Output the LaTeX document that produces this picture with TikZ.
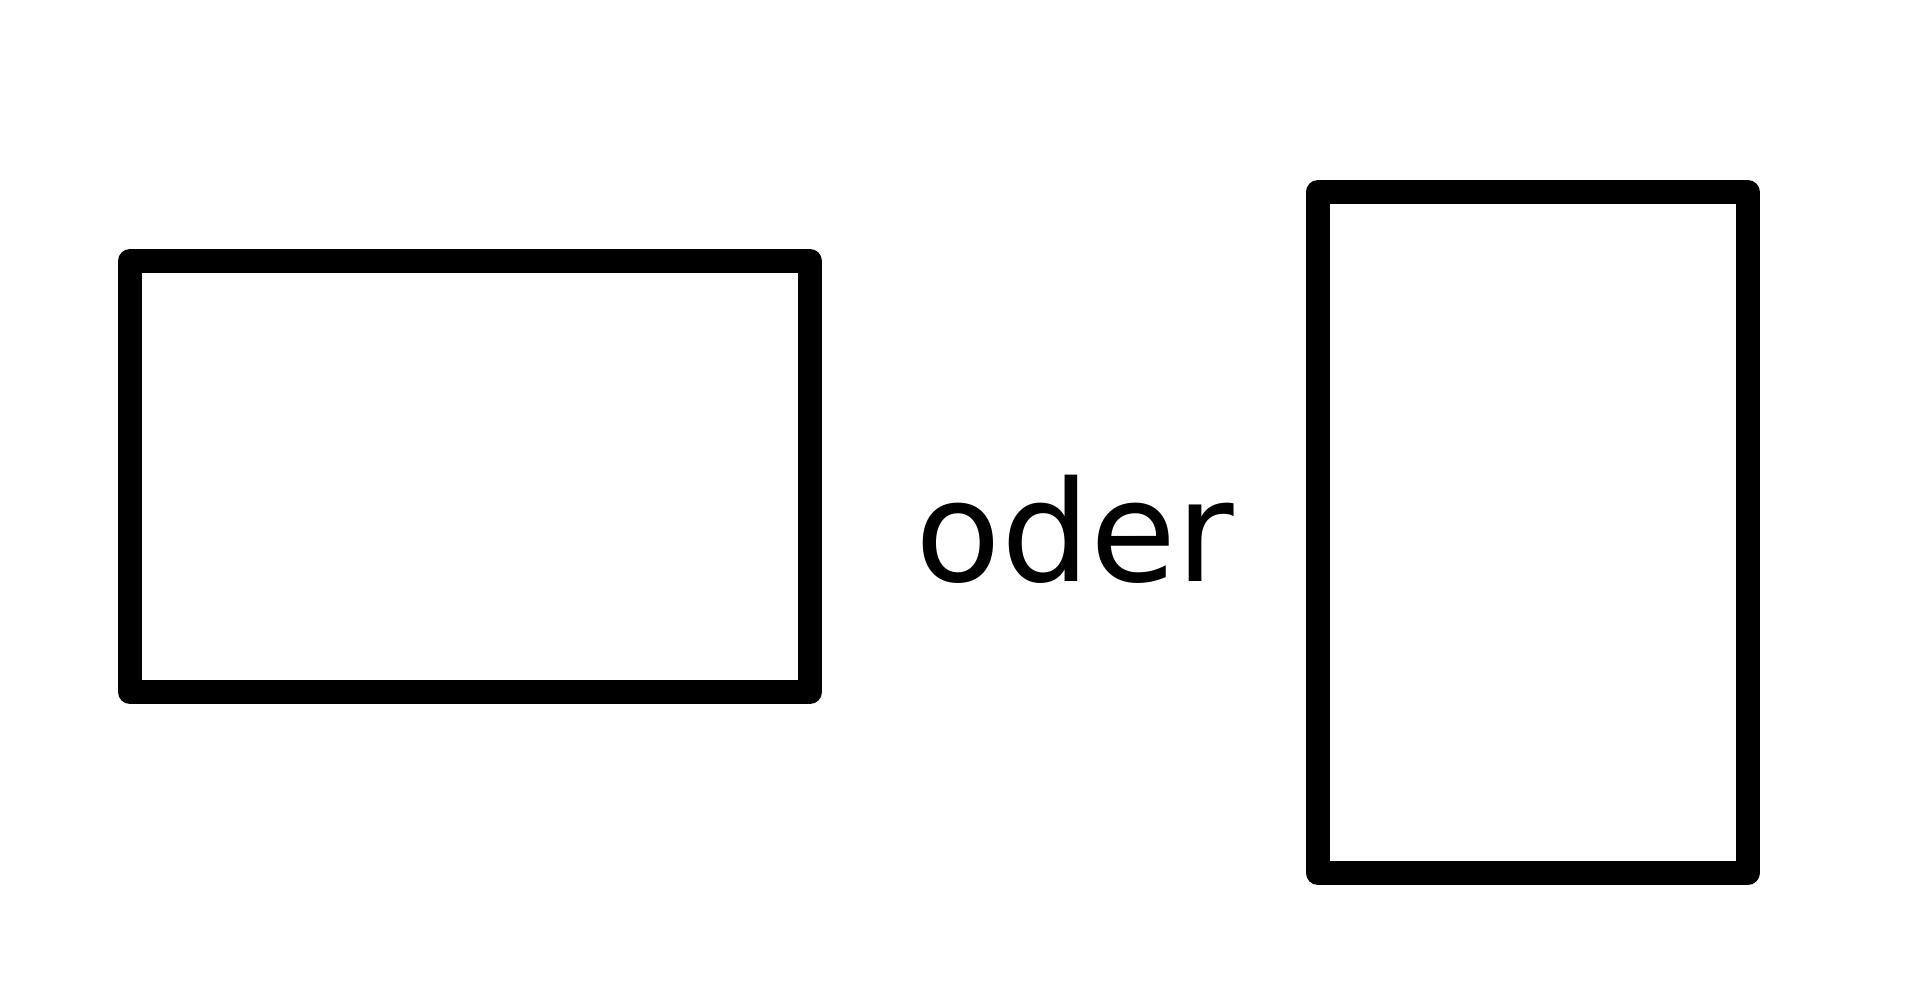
\documentclass[tikz,border=0pt]{standalone}
\usepackage{fontspec}
\setmainfont{DejaVu Sans}
\usepackage{tikz}
\usetikzlibrary{positioning}

\begin{document}
\begin{tikzpicture}[
  x=0.5pt, y=-0.5pt,
  frame/.style={draw=black, line width=12pt, line join=round},
  word/.style={font=\fontsize{70}{84}\selectfont, inner sep=0pt, anchor=base}
]
  \useasboundingbox (0,0) rectangle (1920,999);
  % querformat
  \coordinate (quer-nw) at (130,261);
  \coordinate (quer-se) at (810,692);
  \draw[frame] (quer-nw) rectangle (quer-se);
  % hochformat
  \coordinate (hoch-nw) at (1317.5,192.5);
  \coordinate (hoch-se) at (1748,872.5);
  \draw[frame] (hoch-nw) rectangle (hoch-se);
  \node[word] (oder) at (1075,581) {oder};
\end{tikzpicture}
\end{document}
